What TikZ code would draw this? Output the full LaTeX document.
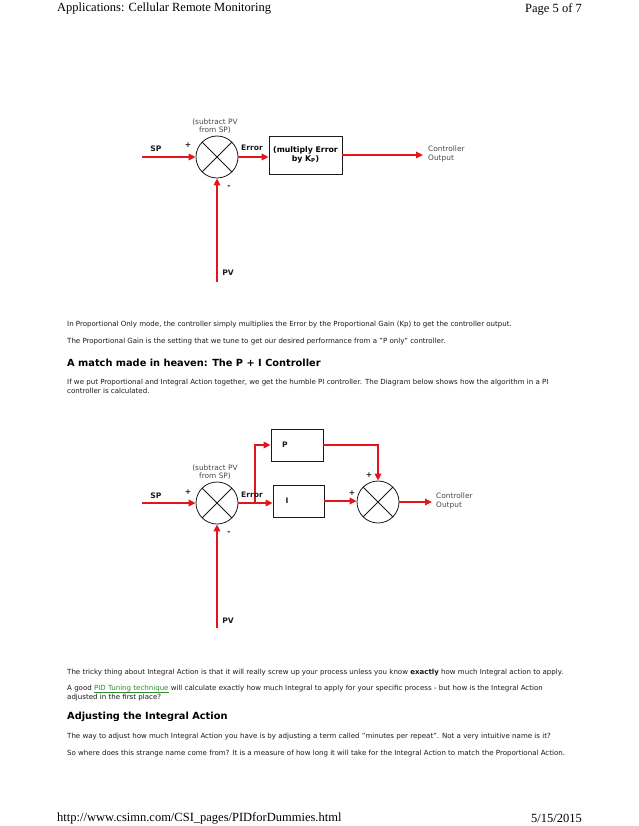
\documentclass[tikz,border=0pt]{standalone}
\usepackage{fontspec}
\setmainfont{DejaVu Sans}
\newfontfamily\pagefont{Liberation Serif}
\usetikzlibrary{arrows.meta,shadows}
\definecolor{PGRed}{HTML}{E3151B}
\definecolor{PGInk}{HTML}{1A1A1A}
\definecolor{PGGray}{HTML}{4A4A4A}
\definecolor{PGLink}{HTML}{2E8B2E}
\newcommand{\summer}[2]{%
  \node[sumnode] (#1) at (#2) {};
  \draw[PGInk, line width=0.8pt] (#1.north west) -- (#1.south east) (#1.north east) -- (#1.south west);
}
\newcommand{\pagelink}[1]{%
  {\color{PGLink}\setbox0\hbox{#1}\rlap{\rule[-1.1pt]{\wd0}{0.45pt}}\box0}}
\tikzset{
  sig/.style={draw=PGRed, line width=1.6pt, -{Triangle[length=7pt,width=6.5pt]}},
  sumnode/.style={circle, draw=PGInk, line width=0.8pt, minimum size=42pt, inner sep=0pt, fill=white},
  blockbox/.style={rectangle, draw=PGInk, line width=0.8pt, fill=white, align=center,
    drop shadow={shadow xshift=1.3pt, shadow yshift=-1.3pt, fill=black!40},
    font=\fontsize{7.8}{9}\selectfont\bfseries},
  lbl/.style={inner sep=0pt, text=PGGray, font=\fontsize{7.4}{8.6}\selectfont},
  lblb/.style={inner sep=0pt, text=PGInk, font=\fontsize{7.6}{8.6}\selectfont\bfseries},
  bodytext/.style={anchor=west, align=left, inner sep=0pt, text=PGInk, font=\fontsize{7.05}{9}\selectfont},
  headtext/.style={anchor=west, inner sep=0pt, text=black, font=\fontsize{9.8}{11}\selectfont\bfseries},
  pagetext/.style={inner sep=0pt, font=\pagefont\fontsize{12.5}{14}\selectfont},
}

\begin{document}
\begin{tikzpicture}[x=1pt,y=-1pt]
  \fill[white] (0,0) rectangle (638,826);
  \useasboundingbox (0,0) rectangle (638,826);

  \node[pagetext, anchor=west] (ptitle) at (57,9) {Applications: Cellular Remote Monitoring};
  \node[pagetext, anchor=east] (pnum) at (582,9) {Page 5 of 7};
  \node[pagetext, anchor=west] (purl) at (57,818) {http://www.csimn.com/CSI\_pages/PIDforDummies.html};
  \node[pagetext, anchor=east] (pdate) at (582,818) {5/15/2015};

  \begin{scope}
    \summer{sumA}{217,157}
    \node[blockbox, minimum width=73pt, minimum height=38pt] (kpbox) at (305.5,155) {(multiply Error\\by K\textsubscript{P})};
    \coordinate (spA) at (142,157);
    \coordinate (outA) at (423,155);
    \coordinate (pvA) at (217,282);
    \draw[sig] (spA) -- (sumA.west);
    \draw[sig] (sumA.east) -- (sumA.east -| kpbox.west);
    \draw[sig] (kpbox.east) -- (outA);
    \draw[sig] (pvA) -- (sumA.south);
    \node[lbl, align=center] (subA) at (215,126) {(subtract PV\\from SP)};
    \node[lblb] (spAt) at (156,149) {SP};
    \node[lblb] (plusA) at (188,145) {+};
    \node[lblb] (errA) at (252,148) {Error};
    \node[lblb] (minA) at (229,187) {-};
    \node[lblb] (pvAt) at (228,273) {PV};
    \node[lbl, anchor=west, align=left] (coA) at (428,154) {Controller\\Output};
  \end{scope}

  \node[bodytext] (t1) at (67,325) {In Proportional Only mode, the controller simply multiplies the Error by the Proportional Gain (Kp) to get the controller output.};
  \node[bodytext] (t2) at (67,342) {The Proportional Gain is the setting that we tune to get our desired performance from a "P only" controller.};
  \node[headtext] (h1) at (67,363) {A match made in heaven: The P + I Controller};
  \node[bodytext] (t3) at (67,386.5) {If we put Proportional and Integral Action together, we get the humble PI controller. The Diagram below shows how the algorithm in a PI\\controller is calculated.};

  \begin{scope}
    \summer{sumB}{217,503}
    \summer{sumC}{378,502}
    \node[blockbox, minimum width=52pt, minimum height=32pt] (pbox) at (297,445) {};
    \node[blockbox, minimum width=51pt, minimum height=32pt] (ibox) at (298.5,501) {};
    \node[lblb] (pt) at (285,445) {P};
    \node[lblb] (it) at (287,501) {I};
    \coordinate (spB) at (142,503);
    \coordinate (outB) at (432,502);
    \coordinate (pvB) at (217,628);
    \coordinate (brB) at (255,503);
    \draw[sig] (spB) -- (sumB.west);
    \draw[sig] (sumB.east) -- (sumB.east -| ibox.west);
    \draw[sig] (brB) |- (pbox.west);
    \draw[sig] (pbox.east) -| (sumC.north);
    \draw[sig] (ibox.east) -- (ibox.east -| sumC.west);
    \draw[sig] (sumC.east) -- (outB);
    \draw[sig] (pvB) -- (sumB.south);
    \node[lbl, align=center] (subB) at (215,472) {(subtract PV\\from SP)};
    \node[lblb] (spBt) at (156,496) {SP};
    \node[lblb] (plusB) at (188,492) {+};
    \node[lblb] (errB) at (252,495) {Error};
    \node[lblb] (minB) at (229,533) {-};
    \node[lblb] (pvBt) at (228,621) {PV};
    \node[lblb] (plusC) at (369,475) {+};
    \node[lblb] (plusD) at (352,493) {+};
    \node[lbl, anchor=west, align=left] (coB) at (436,501) {Controller\\Output};
  \end{scope}

  \node[bodytext] (t4) at (67,673) {The tricky thing about Integral Action is that it will really screw up your process unless you know \textbf{exactly} how much Integral action to apply.};
  \node[bodytext] (t5) at (67,693.5) {A good \pagelink{PID Tuning technique} will calculate exactly how much Integral to apply for your specific process - but how is the Integral Action\\adjusted in the first place?};
  \node[headtext] (h2) at (67,717) {Adjusting the Integral Action};
  \node[bodytext] (t6) at (67,737) {The way to adjust how much Integral Action you have is by adjusting a term called "minutes per repeat". Not a very intuitive name is it?};
  \node[bodytext] (t7) at (67,754) {So where does this strange name come from? It is a measure of how long it will take for the Integral Action to match the Proportional Action.};
\end{tikzpicture}
\end{document}
